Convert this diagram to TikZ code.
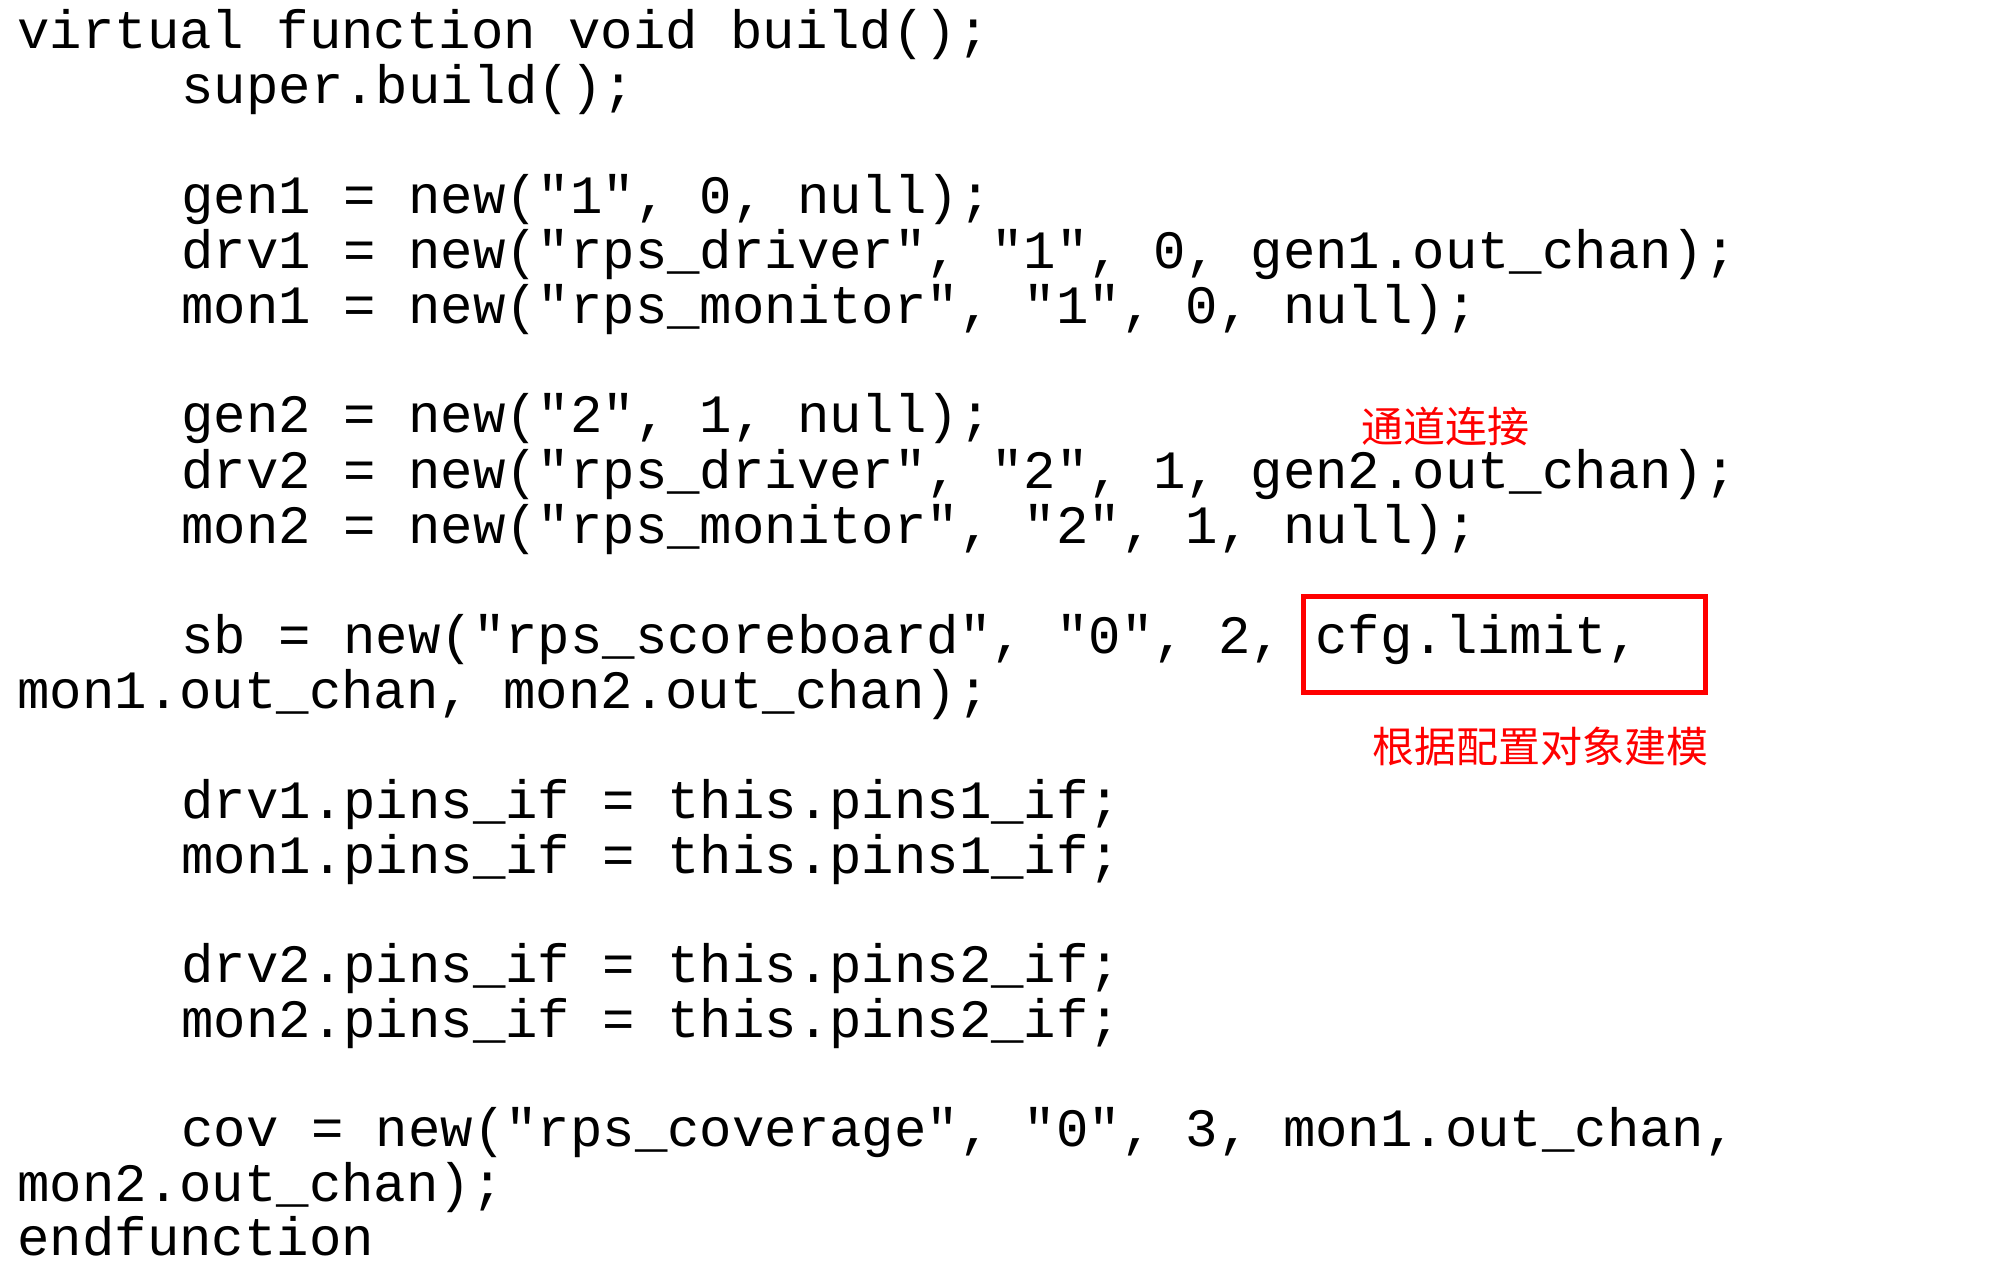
\documentclass[tikz,border=0pt]{standalone}
\usepackage{fontspec}
\setmonofont{Liberation Mono}
\newfontfamily\cjk{Noto Sans CJK SC}
\begin{document}
\begin{tikzpicture}[x=0.5pt,y=-0.5pt,
  code/.style={anchor=base west,inner sep=0pt,font=\fontsize{27pt}{30pt}\ttfamily},
  redtxt/.style={text=red,font=\fontsize{21pt}{24pt}\cjk,inner sep=0pt}]
\useasboundingbox (0,0) rectangle (1989,1261);
\def\L{17}\def\I{181}
\node[code] (l1) at (\L,49) {virtual function void build();};
\node[code] (l2) at (\I,104) {super.build();};
\node[code] (l3) at (\I,214) {gen1 = new("1", 0, null);};
\node[code] (l4) at (\I,269) {drv1 = new("rps\_driver", "1", 0, gen1.out\_chan);};
\node[code] (l5) at (\I,324) {mon1 = new("rps\_monitor", "1", 0, null);};
\node[code] (l6) at (\I,433) {gen2 = new("2", 1, null);};
\node[code] (l7) at (\I,488) {drv2 = new("rps\_driver", "2", 1, gen2.out\_chan);};
\node[code] (l8) at (\I,543) {mon2 = new("rps\_monitor", "2", 1, null);};
\node[code] (l9) at (\I,653) {sb = new("rps\_scoreboard", "0", 2, cfg.limit,};
\node[code] (l10) at (\L,708) {mon1.out\_chan, mon2.out\_chan);};
\node[code] (l11) at (\I,818) {drv1.pins\_if = this.pins1\_if;};
\node[code] (l12) at (\I,873) {mon1.pins\_if = this.pins1\_if;};
\node[code] (l13) at (\I,982) {drv2.pins\_if = this.pins2\_if;};
\node[code] (l14) at (\I,1037) {mon2.pins\_if = this.pins2\_if;};
\node[code] (l15) at (\I,1146) {cov = new("rps\_coverage", "0", 3, mon1.out\_chan,};
\node[code] (l16) at (\L,1201) {mon2.out\_chan);};
\node[code] (l17) at (\L,1255) {endfunction};
\draw[red,line width=2.5] (1303,596) rectangle (1705,692);
\node[redtxt] (t1) at (1445,426) {通道连接};
\node[redtxt] (t2) at (1540,746) {根据配置对象建模};
\end{tikzpicture}
\end{document}
